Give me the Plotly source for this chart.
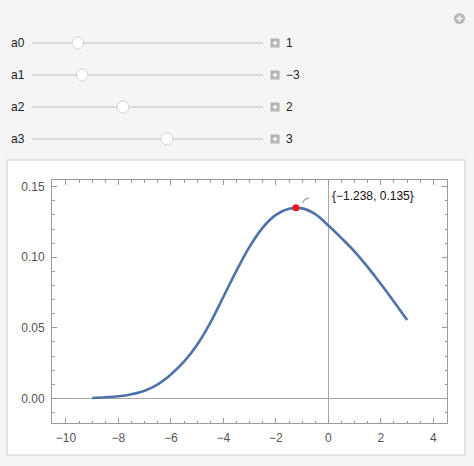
import plotly.graph_objects as go

# ---- data ----
x_vals = [-9, -8.5, -8, -7.5, -7, -6.5, -6, -5.5, -5, -4.5, -4, -3.5, -3, -2.5, -2,
          -1.5, -1, -0.5, 0, 0.5, 1, 1.5, 2, 2.5, 3]
y_vals = [0.0003, 0.0008, 0.0015, 0.0030, 0.0055, 0.0100, 0.0170, 0.0260, 0.0380,
          0.0535, 0.0720, 0.0905, 0.1075, 0.1210, 0.1300, 0.1343, 0.1346,
          0.1305, 0.1225, 0.1135, 0.1040, 0.0930, 0.0810, 0.0685, 0.0555]
peak_x = -1.238
peak_y = 0.135
peak_label = "{\u22121.238, 0.135}"

slider_names = ["a0", "a1", "a2", "a3"]
slider_values = ["1", "\u22123", "2", "3"]
slider_thumb_px = [78, 82, 123, 167]

x_ticks = [-10, -8, -6, -4, -2, 0, 2, 4]
y_ticks = [0.0, 0.05, 0.10, 0.15]

# ---- geometry ----
W, H = 474, 466
L, R, T, B = 52, 27, 180, 43
PW, PH = W - L - R, H - T - B


def fx(px):
    return (px - L) / PW


def fy(py):
    return (H - B - py) / PH


FONT = "Liberation Sans, Arial, Helvetica, sans-serif"
fig = go.Figure()

fig.add_trace(go.Scatter(
    x=x_vals, y=y_vals, mode="lines",
    line=dict(color="#4F72A8", width=2.6, shape="spline", smoothing=1.0),
    hoverinfo="skip", showlegend=False))

fig.add_trace(go.Scatter(
    x=[peak_x], y=[peak_y], mode="markers",
    marker=dict(color="#F0141E", size=7),
    hoverinfo="skip", showlegend=False))

shapes = []
annotations = []

# white panel around plot
shapes.append(dict(type="rect", xref="paper", yref="paper",
                   x0=fx(7), x1=fx(465), y0=fy(455), y1=fy(160),
                   fillcolor="white", line=dict(color="#CDCDCD", width=1),
                   layer="below"))

# callout curve from the peak point to the label
shapes.append(dict(type="path", xref="x", yref="y",
                   xsizemode="pixel", ysizemode="pixel",
                   xanchor=peak_x, yanchor=peak_y,
                   path="M 7,5 Q 8,9 13,10",
                   line=dict(color="#A0A0A0", width=1.2)))

annotations.append(dict(x=peak_x, y=peak_y, xref="x", yref="y",
                        text=peak_label, showarrow=False,
                        xanchor="left", yanchor="middle",
                        xshift=34, yshift=12,
                        font=dict(family=FONT, size=12, color="#111111")))

# sliders
row_y = [43, 75, 107, 139]
for name, val, tx, ry in zip(slider_names, slider_values, slider_thumb_px, row_y):
    shapes.append(dict(type="line", xref="paper", yref="paper",
                       x0=fx(32), x1=fx(263), y0=fy(ry), y1=fy(ry),
                       line=dict(color="#DADADA", width=2)))
    shapes.append(dict(type="circle", xref="paper", yref="paper",
                       x0=fx(tx - 6), x1=fx(tx + 6), y0=fy(ry + 6), y1=fy(ry - 6),
                       fillcolor="white", line=dict(color="#D2D2D2", width=1)))
    # plus box
    shapes.append(dict(type="rect", xref="paper", yref="paper",
                       x0=fx(270.5), x1=fx(279.5), y0=fy(ry + 4.5), y1=fy(ry - 4.5),
                       fillcolor="#B4B4B4", line=dict(width=0)))
    shapes.append(dict(type="line", xref="paper", yref="paper",
                       x0=fx(272.5), x1=fx(277.5), y0=fy(ry), y1=fy(ry),
                       line=dict(color="white", width=1.3)))
    shapes.append(dict(type="line", xref="paper", yref="paper",
                       x0=fx(275), x1=fx(275), y0=fy(ry + 2.5), y1=fy(ry - 2.5),
                       line=dict(color="white", width=1.3)))
    annotations.append(dict(x=fx(27), y=fy(ry), xref="paper", yref="paper",
                            text=name, showarrow=False, xanchor="right",
                            yanchor="middle",
                            font=dict(family=FONT, size=12, color="#222222")))
    annotations.append(dict(x=fx(284), y=fy(ry), xref="paper", yref="paper",
                            text=val, showarrow=False, xanchor="left",
                            yanchor="middle",
                            font=dict(family=FONT, size=12, color="#222222")))

# top-right plus icon
shapes.append(dict(type="circle", xref="paper", yref="paper",
                   x0=fx(454), x1=fx(465), y0=fy(24), y1=fy(13),
                   fillcolor="#B8B8B8", line=dict(width=0)))
shapes.append(dict(type="line", xref="paper", yref="paper",
                   x0=fx(456.5), x1=fx(462.5), y0=fy(18.5), y1=fy(18.5),
                   line=dict(color="white", width=1.5)))
shapes.append(dict(type="line", xref="paper", yref="paper",
                   x0=fx(459.5), x1=fx(459.5), y0=fy(21.5), y1=fy(15.5),
                   line=dict(color="white", width=1.5)))

axis_common = dict(
    showgrid=False, showline=True, linecolor="#9A9A9A", linewidth=1,
    mirror="ticks", ticks="inside", ticklen=5, tickcolor="#9A9A9A",
    tickwidth=1, zeroline=True, zerolinecolor="#A8A8A8", zerolinewidth=1,
    tickfont=dict(family=FONT, size=12, color="#555555"),
)

fig.update_xaxes(range=[-10.53, 4.52], tickvals=x_ticks,
                 minor=dict(dtick=0.5, ticks="inside", ticklen=2.5,
                            tickcolor="#9A9A9A", showgrid=False),
                 ticklabelstandoff=4, **axis_common)
fig.update_yaxes(range=[-0.0174, 0.1547], tickvals=y_ticks, tickformat=".2f",
                 minor=dict(dtick=0.01, ticks="inside", ticklen=2.5,
                            tickcolor="#9A9A9A", showgrid=False),
                 ticklabelstandoff=4, **axis_common)

fig.update_layout(
    width=W, height=H, autosize=False,
    margin=dict(l=L, r=R, t=T, b=B, pad=0),
    paper_bgcolor="#F5F5F5", plot_bgcolor="white",
    shapes=shapes, annotations=annotations, showlegend=False,
)

fig.write_html("out.html", config={"displayModeBar": False},
               post_script="document.body.style.margin='0';document.body.style.overflow='hidden';")
